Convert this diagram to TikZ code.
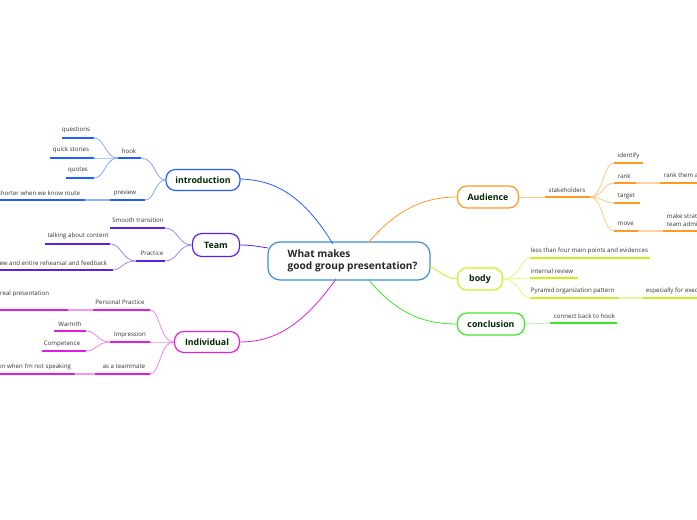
\documentclass[tikz,border=0pt]{standalone}
\usepackage{fontspec}
\setmainfont{Open Sans}
\begin{document}
\begin{tikzpicture}[x=0.75pt,y=-0.75pt,
  mainbox/.style={draw,line width=0.9pt,rounded corners=7pt,fill=white,font=\fontsize{6.6}{8}\selectfont\bfseries,text=black!75!green!60!black,inner sep=0pt},
  lbl/.style={font=\fontsize{4.6}{6}\selectfont,text=black!80,inner sep=0.5pt},
  ul/.style={line width=1.1pt},
  br/.style={line width=0.6pt}]
\useasboundingbox (0,0) rectangle (697,520);
\definecolor{cI}{HTML}{1F5FFF}\definecolor{cT}{HTML}{5A1FE0}\definecolor{cN}{HTML}{E01EE0}
\definecolor{cA}{HTML}{FF9922}\definecolor{cB}{HTML}{C8F020}\definecolor{cC}{HTML}{3EE62A}
\definecolor{cM}{HTML}{3A8FD4}
% center
\node[draw=cM,line width=0.9pt,rounded corners=9pt,minimum width=162*0.75pt,minimum height=38*0.75pt,fill=white] (c) at (349,261) {};
\node[anchor=west,align=left,font=\fontsize{7.6}{9.5}\selectfont\bfseries,text=black!85] (ct) at (283,261) {What makes\\good group presentation?};
% main connectors
\draw[cI,br] (333,244) .. controls (300,190) and (270,180) .. (240,179);
\draw[cT,br] (268,248) .. controls (255,246) and (250,245) .. (240,245);
\draw[cN,br] (336,279) .. controls (300,330) and (270,342) .. (240,342);
\draw[cA,br] (368,243) .. controls (400,205) and (430,197) .. (457,197);
\draw[cB,br] (430,266) .. controls (440,272) and (448,279) .. (457,279);
\draw[cC,br] (368,279) .. controls (400,318) and (430,324) .. (457,324);
% main boxes
\node[mainbox,draw=cI,minimum width=74*0.75pt,minimum height=21*0.75pt] (intro) at (203,180) {introduction};
\node[mainbox,draw=cT,minimum width=47*0.75pt,minimum height=23*0.75pt] (team) at (216,245) {Team};
\node[mainbox,draw=cN,minimum width=65*0.75pt,minimum height=21*0.75pt] (indiv) at (207,342) {Individual};
\node[mainbox,draw=cA,minimum width=61*0.75pt,minimum height=22*0.75pt] (aud) at (488,197) {Audience};
\node[mainbox,draw=cB,minimum width=45*0.75pt,minimum height=22*0.75pt] (body) at (480,279) {body};
\node[mainbox,draw=cC,minimum width=67*0.75pt,minimum height=22*0.75pt] (conc) at (491,324) {conclusion};
% --- introduction
\begin{scope}[cI]
\draw[br,cI!55] (intro.west) .. controls (155,180) and (155,158) .. (141,158);
\draw[br,cI!55] (intro.west) .. controls (155,180) and (155,200) .. (145,200);
\draw[ul] (118,158)--(141,158); \node[lbl] at (129,151){hook};
\draw[ul,cI!50] (85,200)--(145,200); \draw[ul] (110,200)--(145,200); \node[lbl] at (125,193){preview};
\draw[ul] (0,200)--(85,200); \node[lbl,anchor=east] at (81,193){It feels shorter when we know route};
\foreach \a/\b/\y/\t in {62/76/138/questions,50/71/158/quick stories,66/78/178/quotes}{
 \draw[br,cI!55] (118,158) .. controls (105,158) and (105,\y) .. (94,\y);
 \draw[ul] (\a,\y)--(94,\y); \node[lbl] at (\b,\y-8){\t};}
\end{scope}
% --- team
\begin{scope}[cT]
\draw[br,cT!55] (team.west) .. controls (178,245) and (178,228) .. (165,228);
\draw[br,cT!55] (team.west) .. controls (178,245) and (178,261) .. (165,261);
\draw[ul] (110,228)--(165,228); \node[lbl] at (138,220){Smooth transition};
\draw[ul] (136,261)--(165,261); \node[lbl] at (152,253){Practice};
\draw[br,cT!55] (136,261) .. controls (122,261) and (122,244) .. (110,244);
\draw[br,cT!55] (136,261) .. controls (122,261) and (122,270) .. (113,270);
\draw[ul] (45,244)--(110,244); \node[lbl] at (78,236){talking about content};
\draw[ul] (0,270)--(113,270); \node[lbl,anchor=east] at (108,263){Review and entire rehearsal and feedback};
\end{scope}
% --- individual
\begin{scope}[cN]
\foreach \y in {310,342,374}{\draw[br,cN!55] (indiv.west) .. controls (160,342) and (160,\y) .. (150,\y);}
\draw[ul] (93,310)--(150,310); \node[lbl] at (120,302){Personal Practice};
\draw[ul,cN!45] (68,310)--(93,310); \draw[ul] (0,310)--(68,310); \node[lbl,anchor=east] at (50,294){Practice before the real presentation};
\draw[ul] (110,342)--(150,342); \node[lbl] at (130,335){Impression};
\draw[br,cN!55] (110,342) .. controls (97,342) and (97,331) .. (86,331);
\draw[br,cN!55] (110,342) .. controls (97,342) and (97,351) .. (86,351);
\draw[ul] (54,331)--(86,331); \node[lbl] at (70,324){Warmth};
\draw[ul] (42,351)--(86,351); \node[lbl] at (62,344){Competence};
\draw[ul] (95,374)--(150,374); \node[lbl] at (124,367){as a teammate};
\draw[ul,cN!45] (75,374)--(95,374); \draw[ul] (0,374)--(75,374); \node[lbl,anchor=east] at (72,367){Pay attention when I'm not speaking};
\end{scope}
% --- audience
\begin{scope}[cA]
\draw[br,cA!55] (aud.east)--(545,197);
\draw[ul] (545,197)--(590,197); \node[lbl] at (567,190){stakeholders};
\foreach \y in {163,183,203,231}{\draw[br,cA!55] (590,197) .. controls (603,197) and (603,\y) .. (614,\y);}
\draw[ul] (614,163)--(643,163); \node[lbl,anchor=west] at (617,156){identify};
\draw[ul] (614,183)--(636,183); \node[lbl,anchor=west] at (617,176){rank};
\draw[ul,cA!45] (636,183)--(660,183); \draw[ul] (660,183)--(697,183); \node[lbl,anchor=west] at (663,176){rank them according to};
\draw[ul] (614,203)--(640,203); \node[lbl,anchor=west] at (617,196){target};
\draw[ul] (614,231)--(638,231); \node[lbl,anchor=west] at (617,224){move};
\draw[ul,cA!45] (638,231)--(663,231); \draw[ul] (663,231)--(697,231);
\node[lbl,anchor=west,align=left,font=\fontsize{4.6}{6.2}\selectfont] at (666,220){make strategies to\\team administration};
\end{scope}
% --- body
\begin{scope}[cB]
\foreach \y in {258,278,298}{\draw[br,cB!55] (body.east) .. controls (520,279) and (520,\y) .. (530,\y);}
\draw[ul] (530,258)--(650,258); \node[lbl,anchor=west] at (530,251){less than four main points and evidences};
\draw[ul] (530,278)--(578,278); \node[lbl,anchor=west] at (530,271){internal review};
\draw[ul] (530,298)--(618,298); \node[lbl,anchor=west] at (530,291){Pyramid organization pattern};
\draw[ul,cB!45] (618,298)--(642,298); \draw[ul] (642,298)--(697,298); \node[lbl,anchor=west] at (645,291){especially for executives};
\end{scope}
% --- conclusion
\begin{scope}[cC]
\draw[br,cC!45] (conc.east)--(550,323);
\draw[ul] (550,323)--(617,323); \node[lbl,anchor=west] at (553,316){connect back to hook};
\end{scope}
\end{tikzpicture}
\end{document}
